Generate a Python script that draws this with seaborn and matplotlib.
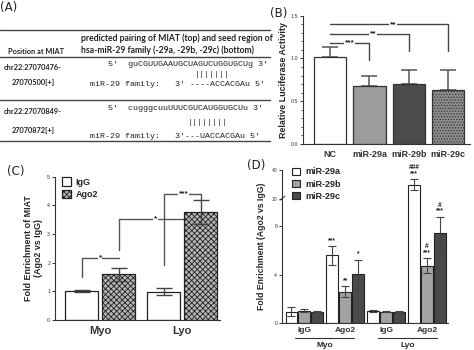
import numpy as np
import pandas as pd
import matplotlib
matplotlib.use("Agg")
import matplotlib.pyplot as plt
import seaborn as sns
from matplotlib.patches import Patch
from matplotlib.ticker import AutoMinorLocator
import matplotlib.transforms as mtransforms

W, H = 474, 350

# (A) pairing table
a_header_1 = "Position at MIAT"
a_header_2 = ["predicted pairing of MIAT (top) and seed region of",
              "hsa-miR-29 family (-29a, -29b, -29c) (bottom)"]
a_pos = [["chr22:27070476-", "27070500[+]"], ["chr22:27070849-", "27070872[+]"]]
a_top = ["5'  guCGUUGAAUGCUAGUCUGGUGCUg 3'", "5'  cugggcuuUUUCGUCAUGGUGCUu 3'"]
a_pipes = ["|||||||", "||||||||"]
a_bottom = ["miR-29 family:   3' ----ACCACGAu 5'", "miR-29 family:   3'---UACCACGAu 5'"]

# (B) luciferase
b_groups = ["NC", "miR-29a", "miR-29b", "miR-29c"]
b_values = [1.02, 0.68, 0.70, 0.63]
b_err = [0.11, 0.12, 0.17, 0.23]
b_colors = ["white", "#9c9c9c", "#4b4b4b", "#8e8e8e"]
b_stars = ["***", "**", "**"]

# (C) RIP of MIAT
c_groups = ["Myo", "Lyo"]
c_hues = ["IgG", "Ago2"]
c_igg = [1.00, 0.99]
c_igg_err = [0.03, 0.11]
c_ago2 = [1.59, 3.77]
c_ago2_err = [0.22, 0.41]

# (D) RIP of miR-29
d_groups = ["Myo IgG", "Myo Ago2", "Lyo IgG", "Lyo Ago2"]
d_ticks = ["IgG", "Ago2", "IgG", "Ago2"]
d_mirs = ["miR-29a", "miR-29b", "miR-29c"]
d_29a = [0.95, 5.60, 1.00, 30.0]
d_29a_err = [0.40, 0.78, 0.05, 3.8]
d_29b = [1.00, 2.60, 0.95, 4.75]
d_29b_err = [0.12, 0.42, 0.07, 0.60]
d_29c = [0.95, 4.03, 0.95, 7.45]
d_29c_err = [0.08, 1.22, 0.07, 1.33]
d_marks = [("Myo Ago2", "miR-29a", "***"), ("Myo Ago2", "miR-29b", "**"),
           ("Myo Ago2", "miR-29c", "*"), ("Lyo Ago2", "miR-29a", "###\n***"),
           ("Lyo Ago2", "miR-29b", "#\n***"), ("Lyo Ago2", "miR-29c", "#\n***")]

sns.set_style("ticks")
plt.rcParams["font.family"] = ["Liberation Sans", "DejaVu Sans"]
plt.rcParams["hatch.linewidth"] = 0.6
plt.rcParams["axes.edgecolor"] = "#333333"
plt.rcParams["xtick.color"] = "#333333"
plt.rcParams["ytick.color"] = "#333333"

fig = plt.figure(figsize=(W / 100, H / 100), dpi=100)


def px_rect(l, t, r, b):
    return [l / W, 1 - b / H, (r - l) / W, (b - t) / H]


# ---------- panel A (drawn on a pixel overlay) ----------
ax0 = fig.add_axes([0, 0, 1, 1])
ax0.set_xlim(0, W)
ax0.set_ylim(H, 0)
ax0.axis("off")
for yy in [30, 57, 100, 141]:
    ax0.plot([0, 270], [yy, yy], color="#444444", lw=1.0)
tf = dict(family=["Lato", "DejaVu Sans"], fontsize=6.2, fontweight="bold", color="#222222")
tf1 = dict(tf, fontsize=5.3)
mono = dict(family=["Liberation Mono", "DejaVu Sans Mono"], fontsize=6.0, color="#222222")
ax0.text(36, 51, a_header_1, ha="center", va="center", **tf1)
ax0.text(81, 38, a_header_2[0], ha="left", va="center", **tf)
ax0.text(81, 50, a_header_2[1], ha="left", va="center", **tf)
for i, base in enumerate([57, 100]):
    ax0.text(33, base + 10 + i * 2, a_pos[i][0], ha="center", va="center", **tf1)
    ax0.text(33, base + 26 + i * 4, a_pos[i][1], ha="center", va="center", **tf1)
    ax0.text(108, base + 7 + i * 1, a_top[i], ha="left", va="center", **mono)
    ax0.text(195 - i * 7, base + 17 + i * 5, a_pipes[i], ha="left", va="center", **mono)
    ax0.text(90, base + 28 + i * 8, a_bottom[i], ha="left", va="center", **mono)

lab = dict(fontsize=8.5, color="#222222", family=["DejaVu Sans"])
ax0.text(0, 8, "(A)", ha="left", va="center", **lab)
ax0.text(270, 13, "(B)", ha="left", va="center", **lab)
ax0.text(7, 171, "(C)", ha="left", va="center", **lab)
ax0.text(247, 166, "(D)", ha="left", va="center", **lab)

# ---------- panel B ----------
axb = fig.add_axes(px_rect(303, 15.7, 470, 144))
sns.barplot(x=b_groups, y=b_values, hue=b_groups, palette=b_colors, legend=False,
            width=0.82, edgecolor="#333333", linewidth=0.9, ax=axb, zorder=2)
axb.patches[3].set_hatch("......")
axb.errorbar(range(4), b_values, yerr=[[0] * 4, b_err], fmt="none", ecolor="#555555",
             elinewidth=1.1, capsize=6, capthick=1.1, zorder=1)
axb.set_xlim(-0.69, 3.56)
axb.set_ylim(0, 1.5)
axb.set_yticks([0, 0.5, 1.0, 1.5])
axb.set_yticklabels(["0.0", "0.5", "1.0", "1.5"])
axb.yaxis.set_minor_locator(AutoMinorLocator(5))
axb.tick_params(axis="y", labelsize=3.8, length=2.5, width=0.7, pad=1)
axb.tick_params(axis="y", which="minor", length=1.5, width=0.6)
axb.tick_params(axis="x", labelsize=6.5, length=0, pad=4)
for t in axb.get_xticklabels():
    t.set_fontweight("bold")
axb.set_ylabel("Relative Luciferase Activity", fontsize=6.4, fontweight="bold", labelpad=2)
sns.despine(ax=axb)
for i, (star, top, drop) in enumerate(zip(b_stars, [1.18, 1.29, 1.40], [0.98, 1.09, 1.09])):
    j = i + 1
    axb.plot([0, j, j], [top, top, drop], color="#444444", lw=1.0, zorder=3)
    axb.text((0 + j) / 2 + 0.1 * (i > 0), top, star, ha="center", va="center", fontsize=6,
             fontweight="bold", zorder=4,
             bbox=dict(facecolor="white", edgecolor="none", pad=0.6))

# ---------- panel C ----------
axc = fig.add_axes(px_rect(55, 176.7, 220, 320))
dfc = pd.DataFrame({"group": c_groups * 2, "ab": ["IgG"] * 2 + ["Ago2"] * 2,
                    "val": c_igg + c_ago2})
sns.barplot(data=dfc, x="group", y="val", hue="ab", hue_order=c_hues,
            palette=["white", "#b5b5b5"], width=0.9, gap=0.1, edgecolor="#222222",
            linewidth=0.9, legend=False, ax=axc, zorder=2)
c_err = c_igg_err + c_ago2_err
for p, e in zip(axc.patches, c_err):
    xc = p.get_x() + p.get_width() / 2
    axc.errorbar(xc, p.get_height(), yerr=e, fmt="none", ecolor="#444444",
                 elinewidth=1.0, capsize=6, capthick=1.0, zorder=3)
for p in axc.patches[2:]:
    p.set_hatch("xxxxxx")
xs_c = [p.get_x() + p.get_width() / 2 for p in axc.patches]
ln = dict(color="#555555", lw=1.0, zorder=1)
axc.plot([xs_c[0], xs_c[0], xs_c[2]], [1.49, 2.18, 2.18], **ln)
axc.plot([xs_c[2], xs_c[2], axc.patches[3].get_x()], [2.45, 3.54, 3.54], **ln)
axc.plot([xs_c[1], xs_c[1], xs_c[3], xs_c[3]], [1.92, 4.39, 4.39, 4.22], **ln)
st = dict(ha="center", va="center", fontsize=6, fontweight="bold", zorder=4,
          bbox=dict(facecolor="white", edgecolor="none", pad=0.5))
axc.text((xs_c[0] + xs_c[2]) / 2, 2.18, "*", **st)
axc.text((xs_c[2] + xs_c[3]) / 2 - 0.05, 3.54, "*", **st)
axc.text((xs_c[1] + xs_c[3]) / 2 + 0.02, 4.39, "***", **st)
axc.set_xlim(-0.55, 1.46)
axc.set_ylim(0, 5)
axc.set_yticks(range(6))
axc.tick_params(axis="y", labelsize=3.8, length=2.5, width=0.7, pad=1)
axc.tick_params(axis="x", labelsize=8, length=0, pad=4)
for t in axc.get_xticklabels():
    t.set_fontweight("bold")
axc.set_xlabel("")
axc.set_ylabel("Fold Enrichment of MIAT\n(Ago2 vs IgG)", fontsize=6.4, fontweight="bold",
               labelpad=3, linespacing=1.1)
sns.despine(ax=axc)
axc.legend(handles=[Patch(facecolor="white", edgecolor="#222222", lw=0.9, label="IgG"),
                    Patch(facecolor="#b5b5b5", edgecolor="#222222", lw=0.9, hatch="xxxxxx",
                          label="Ago2")],
           loc="upper left", bbox_to_anchor=(0.02, 1.02), frameon=False,
           prop=dict(size=6.5, weight="bold"), handlelength=1.0, handleheight=1.0,
           handletextpad=0.5, labelspacing=0.4, borderaxespad=0)

# ---------- panel D (broken axis) ----------
def fwd(y):
    y = np.asarray(y, dtype=float)
    return np.where(y <= 10, y, np.where(y < 20, 10 + (y - 10) * 0.025, 10.25 + (y - 20) * 0.12))


def inv(z):
    z = np.asarray(z, dtype=float)
    return np.where(z <= 10, z, np.where(z < 10.25, 10 + (z - 10) / 0.025, 20 + (z - 10.25) / 0.12))


axd = fig.add_axes(px_rect(282, 170, 448, 323))
dfd = pd.DataFrame({"group": d_groups * 3,
                    "mir": [m for m in d_mirs for _ in d_groups],
                    "val": d_29a + d_29b + d_29c})
d_err = d_29a_err + d_29b_err + d_29c_err
sns.barplot(data=dfd, x="group", y="val", hue="mir", hue_order=d_mirs,
            palette=["white", "#a3a3a3", "#4a4a4a"], width=0.94, gap=0.1,
            edgecolor="#222222", linewidth=0.8, legend=False, ax=axd, zorder=2)
axd.set_yscale("function", functions=(fwd, inv))
pos = {}
for (g, m), p, e in zip(zip(dfd["group"], dfd["mir"]), axd.patches, d_err):
    xc = p.get_x() + p.get_width() / 2
    h = p.get_height()
    pos[(g, m)] = (xc, h + e)
    axd.errorbar(xc, h, yerr=e, fmt="none", ecolor="#444444", elinewidth=0.8,
                 capsize=2.6, capthick=0.8, zorder=3)
for g, m, txt in d_marks:
    xc, top = pos[(g, m)]
    axd.annotate(txt, (xc, top), xytext=(0, 1.5), textcoords="offset points",
                 ha="center", va="bottom", fontsize=4.8, fontweight="bold",
                 linespacing=0.8, color="#222222")
axd.set_xlim(-0.54, 3.51)
axd.set_ylim(0, 40)
axd.set_yticks([0, 4, 8, 20, 40])
axd.tick_params(axis="y", labelsize=3.6, length=2.5, width=0.7, pad=1)
axd.tick_params(axis="x", labelsize=6, length=0, pad=3)
axd.set_xticks(range(4))
axd.set_xticklabels(d_ticks, fontweight="bold")
axd.set_xlabel("")
axd.set_ylabel("Fold Enrichment (Ago2 vs IgG)", fontsize=6.2, fontweight="bold", labelpad=4)
sns.despine(ax=axd)
brk = mtransforms.blended_transform_factory(axd.transAxes, axd.transData)
axd.plot([-0.012, 0.018], [16, 22], color="#333333", lw=0.7, transform=brk, clip_on=False)
tr = mtransforms.blended_transform_factory(axd.transData, axd.transAxes)
for lo, hi, name in [(-0.22, 1.22, "Myo"), (1.8, 3.24, "Lyo")]:
    axd.plot([lo, hi], [-0.096, -0.096], color="#333333", lw=0.8, transform=tr, clip_on=False)
    axd.text((lo + hi) / 2, -0.15, name, transform=tr, ha="center", va="center",
             fontsize=6, fontweight="bold")
axd.legend(handles=[Patch(facecolor=c, edgecolor="#222222", lw=0.8, label=m)
                    for c, m in zip(["white", "#a3a3a3", "#4a4a4a"], d_mirs)],
           loc="upper left", bbox_to_anchor=(0.04, 1.04), frameon=False,
           prop=dict(size=6.5, weight="bold"), handlelength=0.9, handleheight=0.9,
           handletextpad=0.6, labelspacing=0.35, borderaxespad=0)

fig.savefig("out.png", dpi=100)
